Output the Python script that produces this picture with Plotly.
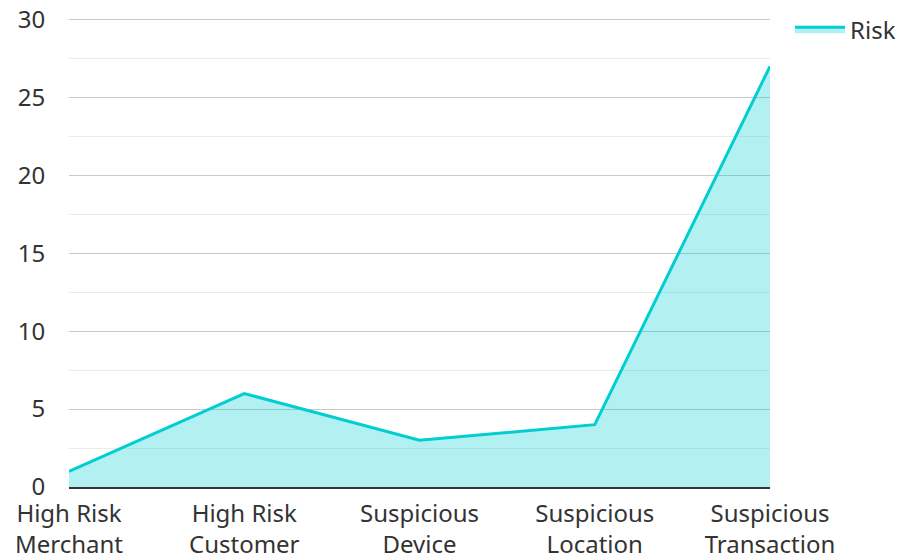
import plotly.graph_objects as go

categories = ["High Risk<br>Merchant", "High Risk<br>Customer", "Suspicious<br>Device",
              "Suspicious<br>Location", "Suspicious<br>Transaction"]
risk_values = [1, 6, 3, 4, 27]
y_ticks = [0, 5, 10, 15, 20, 25, 30]

fig = go.Figure()
fig.add_trace(go.Scatter(
    x=categories, y=risk_values, name="Risk", mode="lines",
    line=dict(color="#00CED1", width=3),
    fill="tozeroy", fillcolor="rgba(0,206,209,0.3)",
))

fig.update_layout(
    width=903, height=560,
    margin=dict(l=61, r=141, t=10, b=81, autoexpand=False),
    paper_bgcolor="white", plot_bgcolor="white",
    font=dict(family="Noto Sans", size=24, color="#333333"),
    showlegend=True,
    legend=dict(x=1.0286, y=1.023, xanchor="left", yanchor="top", itemwidth=50,
                font=dict(size=24, color="#333333"), bgcolor="rgba(0,0,0,0)"),
    xaxis=dict(range=[0, 4], showgrid=False, showline=True, linecolor="#333333",
               linewidth=2, ticks="outside", ticklen=4, tickcolor="rgba(0,0,0,0)",
               tickfont=dict(size=24, color="#333333"), ticklabeloverflow="allow",
               automargin=False, fixedrange=True),
    yaxis=dict(range=[0, 30.1], tickvals=y_ticks, showgrid=True, gridcolor="#c8c8c8",
               gridwidth=1, zeroline=False, showline=False,
               ticks="outside", ticklen=18, tickcolor="rgba(0,0,0,0)",
               tickfont=dict(size=24, color="#333333"), automargin=False,
               ticklabeloverflow="allow",
               minor=dict(dtick=2.5, tick0=0, showgrid=True, gridcolor="#ebebeb", gridwidth=1),
               layer="above traces"),
)

fig.write_html("out.html")
